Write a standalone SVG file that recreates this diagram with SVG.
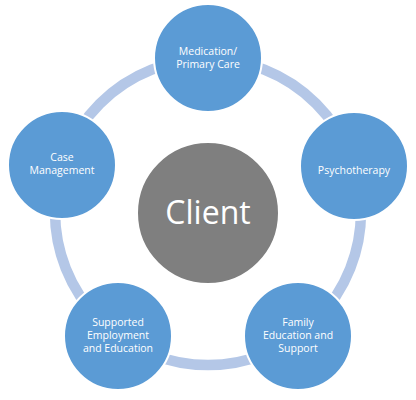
<svg xmlns="http://www.w3.org/2000/svg" width="416" height="400" viewBox="0 0 416 400">
<style>
.node{fill:#5B9BD5;stroke:#FFFFFF;stroke-width:2}
.hub{fill:#7F7F7F;stroke:#FFFFFF;stroke-width:2}
.lbl{font-family:"Open Sans","Liberation Sans",sans-serif;font-size:10.5px;fill:#FFFFFF;text-anchor:middle}
.big{font-family:"Open Sans","Liberation Sans",sans-serif;font-size:32px;fill:#FFFFFF;text-anchor:middle}
</style>
<rect width="416" height="400" fill="#FFFFFF"/>
<g id="connectors">
<circle cx="208" cy="212" r="153" fill="none" stroke="#B4C7E7" stroke-width="10.5"/>
</g>
<g id="client">
<circle class="hub" cx="208" cy="213" r="71"/>
<text class="big" x="208" y="224">Client</text>
</g>
<g id="medication">
<circle class="node" cx="208" cy="58" r="54"/>
<text class="lbl" x="208" y="55">Medication/</text>
<text class="lbl" x="208" y="68">Primary Care</text>
</g>
<g id="psychotherapy">
<circle class="node" cx="354" cy="166" r="54"/>
<text class="lbl" x="354" y="174">Psychotherapy</text>
</g>
<g id="family">
<circle class="node" cx="298" cy="336" r="54"/>
<text class="lbl" x="298" y="325.5">Family</text>
<text class="lbl" x="298" y="338.5">Education and</text>
<text class="lbl" x="298" y="351.5">Support</text>
</g>
<g id="supported">
<circle class="node" cx="118" cy="336" r="54"/>
<text class="lbl" x="118" y="325.5">Supported</text>
<text class="lbl" x="118" y="338.5">Employment</text>
<text class="lbl" x="118" y="351.5">and Education</text>
</g>
<g id="case">
<circle class="node" cx="62" cy="165" r="54"/>
<text class="lbl" x="62" y="160.5">Case</text>
<text class="lbl" x="62" y="173.5">Management</text>
</g>
</svg>
